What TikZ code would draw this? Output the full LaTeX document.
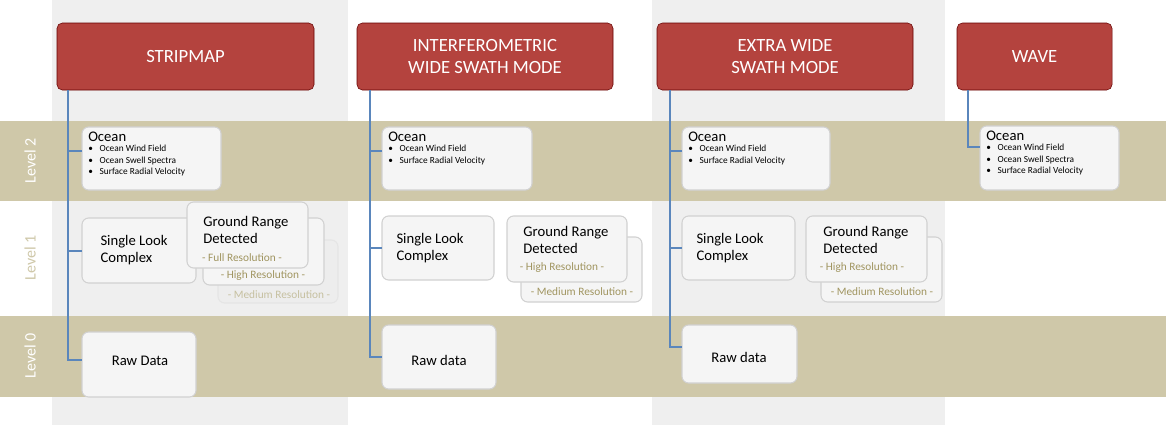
\documentclass[tikz,border=0pt]{standalone}
\usepackage{fontspec}
\setmainfont{Carlito}
\begin{document}
\begin{tikzpicture}[x=0.75pt,y=-0.75pt,
 card/.style={draw=black!18,line width=0.8pt,fill=black!4,rounded corners=5pt,drop shadow/.style={}},
 hdr/.style={fill=red!55!black!80!white,draw=red!40!black,rounded corners=4pt,text=white,font=\fontsize{14}{16}\selectfont,align=center},
 conn/.style={draw=blue!40!gray,line width=1.4pt},
 lvl/.style={rotate=90,font=\fontsize{12}{14}\selectfont}]
\definecolor{band}{HTML}{CFC8A9}
\definecolor{colbg}{HTML}{EFEFEF}
\definecolor{hred}{HTML}{B4433E}
\definecolor{tanT}{HTML}{A09560}
\definecolor{lblue}{HTML}{5A86BC}
\tikzset{hdr/.append style={fill=hred},conn/.style={draw=lblue,line width=1.4pt}}
\useasboundingbox (0,0) rectangle (1166,432);
\fill[white] (0,0) rectangle (1166,432);
\fill[colbg] (52,0) rectangle (348,425);
\fill[colbg] (652,0) rectangle (945,425);
\fill[band] (0,121) rectangle (1166,201);
\fill[band] (0,316) rectangle (1166,397);
\node[lvl,text=white] (l2) at (30,161) {Level 2};
\node[lvl,text=band] (l1) at (30,258) {Level 1};
\node[lvl,text=white] (l0) at (30,356) {Level 0};
% headers
\node[hdr,minimum width=257*0.75pt,minimum height=67*0.75pt] (h1) at (185.5,56.5) {STRIPMAP};
\node[hdr,minimum width=256*0.75pt,minimum height=67*0.75pt] (h2) at (485,56.5) {INTERFEROMETRIC\\WIDE SWATH MODE};
\node[hdr,minimum width=256*0.75pt,minimum height=67*0.75pt] (h3) at (785,56.5) {EXTRA WIDE\\SWATH MODE};
\node[hdr,minimum width=155*0.75pt,minimum height=67*0.75pt] (h4) at (1034.5,56.5) {WAVE};
% cards macro-free
\newcommand{\oc}[2]{\parbox{#1}{\fontsize{11}{12}\selectfont Ocean\\[-1pt]\fontsize{7}{8.5}\selectfont #2}}
\def\bl{\textbullet\hspace{5pt}}
% column 1
\draw[card] (82,127) rectangle (221,190);
\node[anchor=north west,inner sep=0] (o1) at (88,132) {\oc{130pt}{\bl Ocean Wind Field\\\bl Ocean Swell Spectra\\\bl Surface Radial Velocity}};
\draw[card] (82,218) rectangle (196,283);
\node[align=left,font=\fontsize{11}{13}\selectfont] (s1) at (134,250) {Single Look\\Complex};
\draw[card,fill=black!7,draw=black!10] (218,240) rectangle (338,303);
\node[text=tanT!60!white,font=\fontsize{8.5}{10}\selectfont] (m1) at (279,295) {- Medium Resolution -};
\draw[card] (203,218) rectangle (324,285);
\node[text=tanT,font=\fontsize{8.5}{10}\selectfont] (hh1) at (263,276) {- High Resolution -};
\draw[card] (187,202) rectangle (308,268);
\node[align=left,font=\fontsize{11}{13}\selectfont] (g1) at (246,230) {Ground Range\\Detected};
\node[text=tanT,font=\fontsize{8.5}{10}\selectfont] (f1) at (242,258) {- Full Resolution -};
\draw[card] (82,332) rectangle (196,397);
\node[font=\fontsize{11}{13}\selectfont] (r1) at (140,361) {Raw Data};
% column 2
\draw[card] (382,127) rectangle (532,190);
\node[anchor=north west,inner sep=0] (o2) at (388,132) {\oc{130pt}{\bl Ocean Wind Field\\\bl Surface Radial Velocity}};
\draw[card] (382,216) rectangle (494,280);
\node[align=left,font=\fontsize{11}{13}\selectfont] (s2) at (430,248) {Single Look\\Complex};
\draw[card] (521,237) rectangle (642,302);
\node[text=tanT,font=\fontsize{8.5}{10}\selectfont] (m2) at (582,292) {- Medium Resolution -};
\draw[card] (507,216) rectangle (627,282);
\node[align=left,font=\fontsize{11}{13}\selectfont] (g2) at (566,240) {Ground Range\\Detected};
\node[text=tanT,font=\fontsize{8.5}{10}\selectfont] (hh2) at (562,268) {- High Resolution -};
\draw[card] (382,325) rectangle (496,389);
\node[font=\fontsize{11}{13}\selectfont] (r2) at (439,360) {Raw data};
% column 3
\draw[card] (682,127) rectangle (830,190);
\node[anchor=north west,inner sep=0] (o3) at (688,132) {\oc{130pt}{\bl Ocean Wind Field\\\bl Surface Radial Velocity}};
\draw[card] (682,216) rectangle (795,280);
\node[align=left,font=\fontsize{11}{13}\selectfont] (s3) at (730,248) {Single Look\\Complex};
\draw[card] (821,237) rectangle (942,302);
\node[text=tanT,font=\fontsize{8.5}{10}\selectfont] (m3) at (882,292) {- Medium Resolution -};
\draw[card] (806,216) rectangle (927,282);
\node[align=left,font=\fontsize{11}{13}\selectfont] (g3) at (866,240) {Ground Range\\Detected};
\node[text=tanT,font=\fontsize{8.5}{10}\selectfont] (hh3) at (862,268) {- High Resolution -};
\draw[card] (682,325) rectangle (797,383);
\node[font=\fontsize{11}{13}\selectfont] (r3) at (739,357) {Raw data};
% wave
\draw[card] (980,126) rectangle (1119,190);
\node[anchor=north west,inner sep=0] (o4) at (986,131) {\oc{130pt}{\bl Ocean Wind Field\\\bl Ocean Swell Spectra\\\bl Surface Radial Velocity}};
% connectors
\coordinate (v1) at (68,90); \coordinate (v2) at (370,90); \coordinate (v3) at (670,90); \coordinate (v4) at (968,90);
\draw[conn] (v1) |- (82,360);
\draw[conn] (68,151) -- (82,151); \draw[conn] (68,251) -- (82,251);
\draw[conn] (v2) |- (382,357);
\draw[conn] (370,151) -- (382,151); \draw[conn] (370,248) -- (382,248);
\draw[conn] (v3) |- (682,347);
\draw[conn] (670,151) -- (682,151); \draw[conn] (670,248) -- (682,248);
\draw[conn] (v4) |- (980,147);
\end{tikzpicture}
\end{document}
